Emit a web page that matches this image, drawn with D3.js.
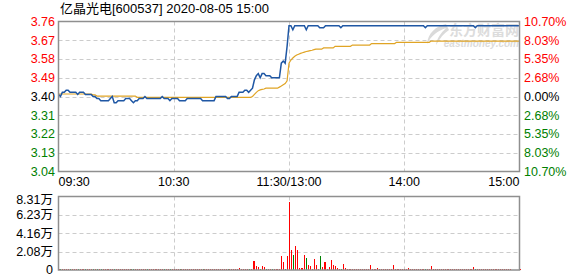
<!DOCTYPE html>
<html><head><meta charset="utf-8">
<script src="https://cdn.jsdelivr.net/npm/d3@7"></script>
<style>html,body{margin:0;padding:0;background:#fff;overflow:hidden}</style>
</head><body>
<svg id="c" width="578" height="276"></svg>
<script>
const title = "亿晶光电[600537] 2020-08-05 15:00";
const prevClose = 3.40;
const priceTicks = [3.76, 3.67, 3.58, 3.49, 3.40, 3.31, 3.22, 3.13, 3.04];
const priceLabels = ["3.76", "3.67", "3.58", "3.49", "3.40", "3.31", "3.22", "3.13", "3.04"];
const pctLabels = ["10.70%", "8.03%", "5.35%", "2.68%", "0.00%", "2.68%", "5.35%", "8.03%", "10.70%"];
const timeTickIdx = [0, 60, 120, 180, 240];
const timeLabels = ["09:30", "10:30", "11:30/13:00", "14:00", "15:00"];
const volTicks = [8.31, 6.23, 4.16, 2.08, 0];
const volLabels = ["8.31万", "6.23万", "4.16万", "2.08万", "0"];

const price = [
3.41,3.40,3.42,3.42,3.43,3.43,3.42,3.42,3.42,3.42,
3.41,3.42,3.42,3.42,3.41,3.41,3.41,3.41,3.40,3.40,
3.39,3.39,3.38,3.38,3.38,3.38,3.38,3.39,3.40,3.37,
3.37,3.38,3.38,3.38,3.38,3.39,3.39,3.39,3.38,3.37,
3.38,3.38,3.39,3.39,3.39,3.40,3.39,3.39,3.39,3.39,
3.39,3.39,3.39,3.39,3.40,3.39,3.39,3.39,3.38,3.39,
3.39,3.39,3.39,3.38,3.38,3.38,3.38,3.39,3.39,3.39,
3.39,3.39,3.39,3.39,3.39,3.38,3.38,3.38,3.38,3.38,
3.38,3.38,3.40,3.40,3.40,3.40,3.40,3.40,3.39,3.39,
3.40,3.40,3.40,3.40,3.42,3.42,3.42,3.43,3.43,3.42,
3.43,3.44,3.48,3.50,3.51,3.49,3.51,3.51,3.50,3.50,
3.50,3.49,3.49,3.49,3.49,3.49,3.56,3.57,3.56,3.64,
3.74,3.74,3.72,3.74,3.74,3.74,3.74,3.74,3.74,3.72,
3.74,3.74,3.74,3.74,3.74,3.74,3.73,3.73,3.73,3.74,
3.74,3.74,3.74,3.74,3.74,3.74,3.74,3.73,3.74,3.74,
3.74,3.74,3.74,3.74,3.74,3.74,3.74,3.74,3.74,3.74,
3.74,3.74,3.74,3.74,3.74,3.74,3.74,3.74,3.74,3.74,
3.74,3.74,3.74,3.74,3.74,3.74,3.74,3.74,3.74,3.74,
3.74,3.74,3.74,3.74,3.74,3.74,3.74,3.74,3.74,3.74,
3.74,3.73,3.74,3.74,3.74,3.74,3.74,3.74,3.74,3.74,
3.74,3.74,3.74,3.74,3.74,3.74,3.74,3.74,3.74,3.74,
3.74,3.74,3.74,3.74,3.74,3.74,3.74,3.73,3.74,3.74,
3.74,3.74,3.74,3.74,3.74,3.74,3.74,3.74,3.74,3.74,
3.74,3.74,3.74,3.74,3.74,3.74,3.74,3.74,3.74,3.74,
3.74
];

const avgPrice = [
3.412,3.412,3.412,3.412,3.412,3.412,3.412,3.412,3.412,3.412,
3.412,3.412,3.412,3.412,3.412,3.412,3.412,3.412,3.408,3.408,
3.402,3.402,3.402,3.402,3.402,3.402,3.402,3.402,3.402,3.402,
3.402,3.402,3.402,3.402,3.402,3.402,3.402,3.402,3.402,3.402,
3.402,3.396,3.396,3.396,3.396,3.396,3.396,3.396,3.396,3.396,
3.396,3.396,3.396,3.396,3.396,3.396,3.396,3.396,3.396,3.396,
3.396,3.396,3.396,3.396,3.396,3.396,3.396,3.396,3.396,3.396,
3.396,3.396,3.396,3.396,3.396,3.396,3.396,3.396,3.396,3.396,
3.396,3.396,3.396,3.396,3.396,3.396,3.396,3.396,3.396,3.396,
3.396,3.396,3.396,3.396,3.396,3.396,3.396,3.396,3.396,3.396,
3.396,3.400,3.410,3.420,3.428,3.432,3.434,3.436,3.440,3.440,
3.440,3.440,3.440,3.440,3.440,3.445,3.450,3.456,3.462,3.475,
3.560,3.575,3.585,3.593,3.599,3.603,3.607,3.610,3.613,3.616,
3.618,3.620,3.622,3.625,3.627,3.627,3.627,3.627,3.633,3.633,
3.633,3.633,3.633,3.633,3.641,3.641,3.641,3.641,3.641,3.641,
3.641,3.641,3.641,3.647,3.647,3.647,3.647,3.647,3.647,3.647,
3.647,3.647,3.647,3.654,3.654,3.654,3.654,3.654,3.654,3.654,
3.654,3.654,3.654,3.654,3.654,3.654,3.660,3.660,3.660,3.660,
3.660,3.660,3.660,3.660,3.660,3.660,3.660,3.660,3.660,3.660,
3.660,3.660,3.660,3.660,3.666,3.666,3.666,3.666,3.666,3.666,
3.666,3.666,3.666,3.666,3.666,3.666,3.666,3.666,3.666,3.666,
3.666,3.666,3.666,3.666,3.666,3.666,3.666,3.666,3.666,3.666,
3.666,3.666,3.666,3.666,3.666,3.666,3.666,3.666,3.666,3.666,
3.666,3.666,3.666,3.666,3.666,3.666,3.666,3.666,3.666,3.666,
3.666
];

// volume in 万 shares
const volume = [
0.12,0.10,0.09,0.11,0.10,0.08,0.10,0.09,0.10,0.10,
0.09,0.10,0.08,0.10,0.10,0.09,0.10,0.10,0.08,0.10,
0.10,0.09,0.10,0.08,0.10,0.10,0.09,0.10,0.10,0.08,
0.10,0.09,0.10,0.10,0.08,0.10,0.10,0.09,0.10,0.10,
0.08,0.10,0.10,0.09,0.10,0.10,0.08,0.10,0.09,0.10,
0.10,0.08,0.10,0.10,0.09,0.10,0.10,0.08,0.10,0.10,
0.09,0.10,0.10,0.08,0.10,0.10,0.09,0.10,0.08,0.10,
0.10,0.09,0.10,0.10,0.08,0.10,0.10,0.09,0.10,0.10,
0.08,0.10,0.10,0.09,0.10,0.10,0.08,0.10,0.10,0.09,
0.10,0.10,0.08,0.10,0.22,0.10,0.10,0.10,0.10,0.10,
0.10,1.05,1.05,0.45,0.32,0.08,0.45,0.32,0.10,0.10,
0.10,0.10,0.10,0.10,0.10,0.10,1.57,0.90,0.12,1.57,
7.64,2.25,1.70,2.70,2.25,0.17,0.17,0.17,1.70,1.35,
0.55,0.45,0.10,1.23,0.55,0.10,1.57,0.33,0.90,0.90,
0.10,0.33,1.10,0.55,0.40,0.20,0.12,0.12,0.67,0.20,
0.10,0.10,0.10,0.10,0.10,0.10,0.10,0.10,0.10,0.10,
0.10,0.10,0.55,0.10,0.10,0.10,0.22,0.10,0.10,0.10,
0.10,0.10,0.10,0.10,0.55,0.10,0.10,0.10,0.10,0.10,
0.10,0.10,0.22,0.10,0.10,0.10,0.10,0.10,0.10,0.10,
0.10,0.10,0.10,0.10,0.45,0.10,0.10,0.10,0.10,0.10,
0.10,0.10,0.10,0.10,0.10,0.10,0.10,0.10,0.10,0.10,
0.10,0.10,0.10,0.10,0.10,0.10,0.33,0.08,0.10,0.10,
0.10,0.10,0.10,0.10,0.10,0.10,0.10,0.10,0.10,0.10,
0.10,0.10,0.10,0.10,0.10,0.10,0,0,0,0,
0.15
];

const svg = d3.select("#c");
const L = 58.5, R = 519.5, T = 21.5, B = 171.5, VT = 196.5, VB = 270;
const FONT = "'Liberation Sans', Arial, 'Noto Sans CJK SC', sans-serif";
const RED = "#ff0000", GREEN = "#008000", GRID = "#cccccc", BORDER = "#8f8f8f";

const x = d3.scaleLinear().domain([0, 240]).range([L, R]);
const y = d3.scaleLinear().domain([3.04, 3.76]).range([B, T]);
const yv = d3.scaleLinear().domain([0, 8.31]).range([VB, VT]);
const colorOf = v => v > prevClose + 1e-9 ? RED : (v < prevClose - 1e-9 ? GREEN : "#000");

// title
svg.append("text").attr("x", 60).attr("y", 13).attr("font-family", FONT)
  .attr("font-size", 13).attr("fill", "#000").text(title);

// watermark
const wm = svg.append("g").attr("opacity", 0.9);
wm.append("path").attr("d", "M446,24 C436,26 428,33 427,44 C431,36 437,31 446,28 C441,33 437,38 436,45 C440,38 444,33 449,30 Z")
  .attr("fill", "#d6d6d6");
wm.append("text").attr("x", 519).attr("y", 35).attr("text-anchor", "end").attr("font-family", "'Noto Sans CJK SC', sans-serif")
  .attr("font-size", 14).attr("font-weight", "bold").attr("fill", "#d9d9d9").text("东方财富网");
wm.append("text").attr("x", 519).attr("y", 47).attr("text-anchor", "end").attr("font-family", FONT)
  .attr("font-size", 10).attr("font-weight", "bold").attr("font-style", "italic").attr("fill", "#d9d9d9").text("eastmoney.com");

// price grid
svg.append("g").selectAll("line").data(priceTicks.slice(1, -1)).join("line")
  .attr("x1", L).attr("x2", R).attr("y1", d => Math.round(y(d)) + 0.5).attr("y2", d => Math.round(y(d)) + 0.5)
  .attr("stroke", GRID).attr("stroke-dasharray", "4,3");
svg.append("g").selectAll("line").data(timeTickIdx.slice(1, -1)).join("line")
  .attr("x1", d => Math.round(x(d)) + 0.5).attr("x2", d => Math.round(x(d)) + 0.5).attr("y1", T).attr("y2", B)
  .attr("stroke", GRID).attr("stroke-dasharray", "4,3");

// volume grid
svg.append("g").selectAll("line").data(volTicks.slice(1, -1)).join("line")
  .attr("x1", L).attr("x2", R).attr("y1", d => Math.round(yv(d)) + 0.5).attr("y2", d => Math.round(yv(d)) + 0.5)
  .attr("stroke", GRID).attr("stroke-dasharray", "4,3");
svg.append("g").selectAll("line").data(timeTickIdx.slice(1, -1)).join("line")
  .attr("x1", d => Math.round(x(d)) + 0.5).attr("x2", d => Math.round(x(d)) + 0.5).attr("y1", VT).attr("y2", VB)
  .attr("stroke", GRID).attr("stroke-dasharray", "4,3");

// average line
svg.append("path").datum(avgPrice)
  .attr("d", d3.line().x((d, i) => x(i)).y(d => y(d)))
  .attr("fill", "none").attr("stroke", "#e0a424").attr("stroke-width", 1.2);
// price line
svg.append("path").datum(price)
  .attr("d", d3.line().x((d, i) => x(i)).y(d => y(d)))
  .attr("fill", "none").attr("stroke", "#1f57a4").attr("stroke-width", 1.5);

// volume bars
svg.append("g").selectAll("rect").data(volume).join("rect")
  .attr("x", (d, i) => Math.round(x(i)))
  .attr("width", 1)
  .attr("y", d => yv(d))
  .attr("height", d => VB - yv(d))
  .attr("fill", (d, i) => (i > 0 && price[i] < price[i - 1]) ? GREEN : RED)
  .attr("shape-rendering", "crispEdges");

// borders
svg.append("rect").attr("x", L).attr("y", T).attr("width", R - L).attr("height", B - T)
  .attr("fill", "none").attr("stroke", BORDER).attr("stroke-width", 1.5);
svg.append("rect").attr("x", L).attr("y", VT).attr("width", R - L).attr("height", VB - VT)
  .attr("fill", "none").attr("stroke", BORDER).attr("stroke-width", 1.5);

// price labels (left)
svg.append("g").selectAll("text").data(priceTicks).join("text")
  .attr("x", 55).attr("y", d => y(d)).attr("dy", "0.35em").attr("text-anchor", "end")
  .attr("font-family", FONT).attr("font-size", 12.5)
  .attr("fill", d => colorOf(d)).text((d, i) => priceLabels[i]);
// percent labels (right)
svg.append("g").selectAll("text").data(priceTicks).join("text")
  .attr("x", 524).attr("y", d => y(d)).attr("dy", "0.35em").attr("text-anchor", "start")
  .attr("font-family", FONT).attr("font-size", 12.5)
  .attr("fill", d => colorOf(d)).text((d, i) => pctLabels[i]);

// time labels
const anchors = ["start", "middle", "middle", "middle", "end"];
svg.append("g").selectAll("text").data(timeTickIdx).join("text")
  .attr("x", d => x(d)).attr("y", 186).attr("text-anchor", (d, i) => anchors[i])
  .attr("font-family", FONT).attr("font-size", 12.5).attr("fill", "#000")
  .text((d, i) => timeLabels[i]);

// volume labels
svg.append("g").selectAll("text").data(volTicks).join("text")
  .attr("x", 53).attr("y", (d, i) => i === 0 ? yv(d) + 3 : yv(d)).attr("dy", "0.35em").attr("text-anchor", "end")
  .attr("font-family", FONT).attr("font-size", 12.5).attr("fill", "#000")
  .text((d, i) => volLabels[i]);
</script>
</body></html>
